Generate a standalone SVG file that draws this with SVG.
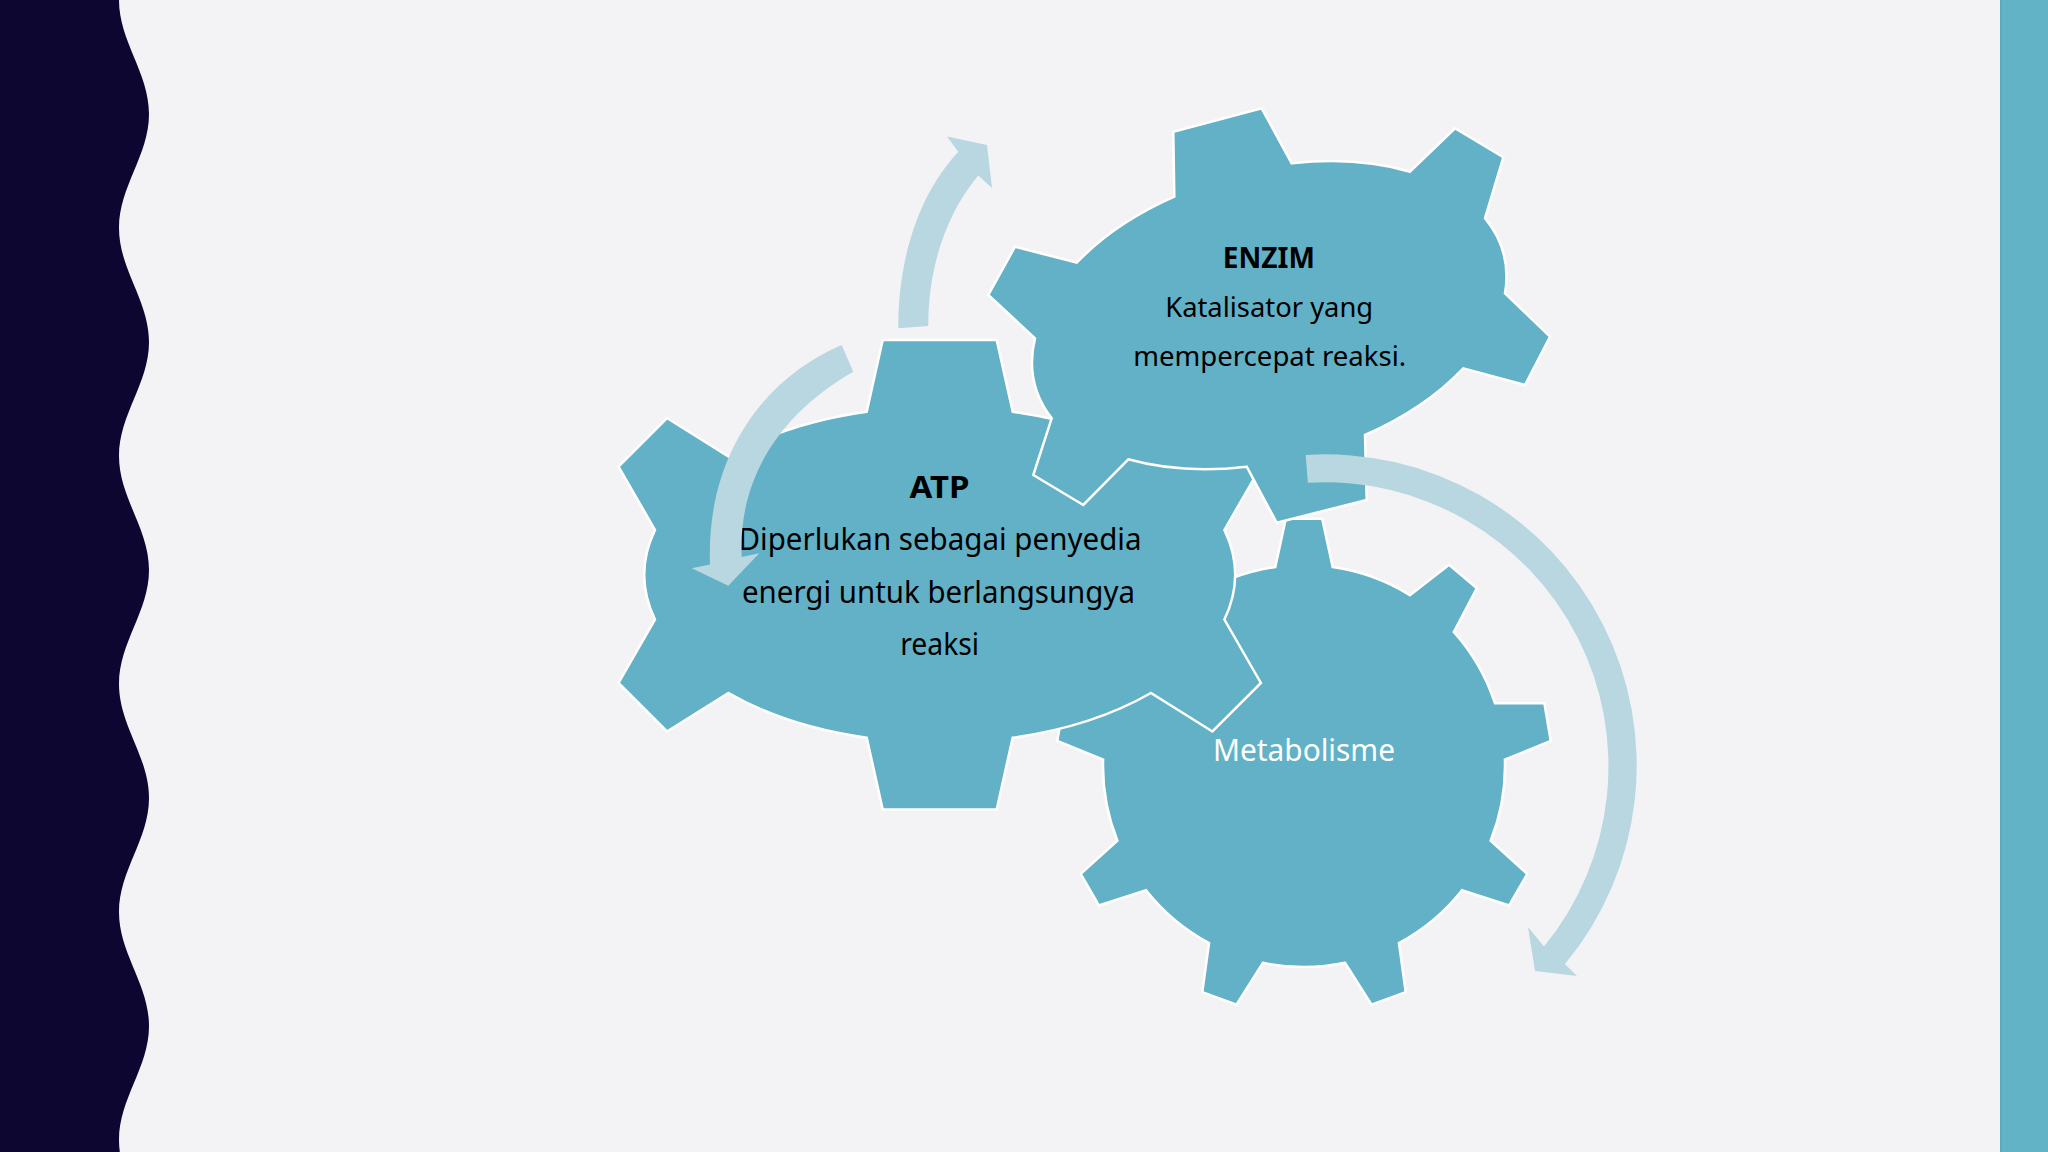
<svg xmlns="http://www.w3.org/2000/svg" width="2048" height="1152" viewBox="0 0 2048 1152">
<defs>
<style>
.bg{fill:#f3f3f5}
.gear{fill:#63b1c6;stroke:#ffffff;stroke-width:2.5;stroke-linejoin:miter}
.arrow{fill:#b8d7e0}
.t{font-family:"Noto Sans","Open Sans","Liberation Sans",sans-serif;text-anchor:middle;fill:#000000}
.b{font-weight:700}
.w{fill:#ffffff}
</style>
</defs>
<rect class="bg" x="0" y="0" width="2048" height="1152"/>
<g id="left-band">
<path fill="#0c0631" d="M0,0 L119,0 c0,41.5 30,72.5 30,114 c0,41.5 -30,72.5 -30,114 c0,41.5 30,72.5 30,114 c0,41.5 -30,72.5 -30,114 c0,41.5 30,72.5 30,114 c0,41.5 -30,72.5 -30,114 c0,41.5 30,72.5 30,114 c0,41.5 -30,72.5 -30,114 c0,41.5 30,72.5 30,114 c0,41.5 -30,72.5 -30,114 c0,41.5 30,72.5 30,114 c0,41.5 -30,72.5 -30,114 L0,1368 Z"/>
</g>
<g id="right-band">
<rect x="2000" y="0" width="48" height="1152" fill="#63b3c6"/>
<rect x="2000" y="0" width="1.5" height="1152" fill="#58a8bc"/>
</g>
<g id="gear-metabolisme">
<path class="gear" d="M1275.3,567.1 L1285.8,518.7 L1322.2,518.7 L1332.7,567.1 A201,201 0 0 1 1409.9,595.2 L1449.1,564.8 L1476.9,588.2 L1453.8,632 A201,201 0 0 1 1494.9,703.2 L1544.4,703.2 L1550.7,740.9 L1504.9,759.7 A201,201 0 0 1 1490.6,840.7 L1527.3,873.9 L1509.1,905.4 L1462,890.3 A201,201 0 0 1 1399,943.1 L1405.7,992.2 L1371.5,1004.6 L1345.1,962.8 A201,201 0 0 1 1262.9,962.8 L1236.5,1004.6 L1202.3,992.2 L1209,943.1 A201,201 0 0 1 1146,890.3 L1098.9,905.4 L1080.7,873.9 L1117.4,840.7 A201,201 0 0 1 1103.1,759.7 L1057.3,740.9 L1063.6,705.2 L1113.1,703.2 A201,201 0 0 1 1154.2,632 L1131.1,588.2 L1158.9,564.8 L1198.1,595.2 A201,201 0 0 1 1275.3,567.1 Z"/>
<text class="t w" x="1304" y="761" font-size="30" textLength="182" lengthAdjust="spacingAndGlyphs">Metabolisme</text>
</g>
<g id="gear-atp">
<path class="gear" d="M866.7,411.7 L882.7,340 L996.7,340 L1012.7,411.7 A293,168 0 0 1 1150.9,456.5 L1212.4,418 L1260.9,466.5 L1224.4,530 A293,168 0 0 1 1224.4,619.5 L1260.9,683 L1212.4,731.5 L1150.9,693 A293,168 0 0 1 1012.7,737.7 L996.7,809.4 L882.7,809.4 L866.7,737.7 A293,168 0 0 1 728.5,693 L667,731.5 L618.5,683 L655,619.5 A293,168 0 0 1 655,530 L618.5,466.5 L667,418 L728.5,456.5 A293,168 0 0 1 866.7,411.7 Z"/>
<text class="t b" x="939.5" y="498" font-size="30" textLength="60" lengthAdjust="spacingAndGlyphs">ATP</text>
<text class="t" x="940" y="549.5" font-size="31" textLength="403" lengthAdjust="spacingAndGlyphs">Diperlukan sebagai penyedia</text>
<text class="t" x="938.5" y="602.5" font-size="31" textLength="393" lengthAdjust="spacingAndGlyphs">energi untuk berlangsungya</text>
<text class="t" x="939.7" y="655" font-size="31" textLength="79" lengthAdjust="spacingAndGlyphs">reaksi</text>
</g>
<g id="gear-enzim">
<path class="gear" d="M1174.3,196.7 L1173.3,131.7 L1261.7,108.3 L1291.7,163.3 A242,146 -15 0 1 1410,171.7 L1455,128.3 L1503.3,157.3 L1485,218.3 A242,146 -15 0 1 1505,293.3 L1550,336.7 L1525,385 L1463.3,368.3 A242,146 -15 0 1 1365,435 L1366.7,500 L1276.7,522.7 L1246.7,466.7 A242,146 -15 0 1 1128.3,459.3 L1083.3,505 L1033.3,475 L1051.7,418.3 A242,146 -15 0 1 1035,338.3 L988.3,295 L1015,246.7 L1076.7,262.7 A242,146 -15 0 1 1174.3,196.7 Z"/>
<text class="t b" x="1268.8" y="268.3" font-size="28" textLength="92" lengthAdjust="spacingAndGlyphs">ENZIM</text>
<text class="t" x="1269.2" y="316.7" font-size="28" textLength="208" lengthAdjust="spacingAndGlyphs">Katalisator yang</text>
<text class="t" x="1269.7" y="365.5" font-size="28" textLength="273" lengthAdjust="spacingAndGlyphs">mempercepat reaksi.</text>
</g>
<g id="connectors">
<path class="arrow" d="M898.3,328.3 C898,260 918,195 958.3,151.7 L947,136.5 L987,145 L992,188 L978.3,175.5 C945,215 928,270 928.3,326 Z"/>
<path class="arrow" d="M841.7,345 C760,380 706,460 710,564.5 L691.7,568.3 L728.3,585.7 L759.3,553.3 L741.7,557 C738,480 778,415 853.3,371.7 Z"/>
<path class="arrow" d="M1305.7,455 A311,311 0 0 1 1565,964 L1577,976 L1535,971 L1528,927 L1544,946.5 A284,284 0 0 0 1307.9,482.8 Z"/>
</g>
</svg>
